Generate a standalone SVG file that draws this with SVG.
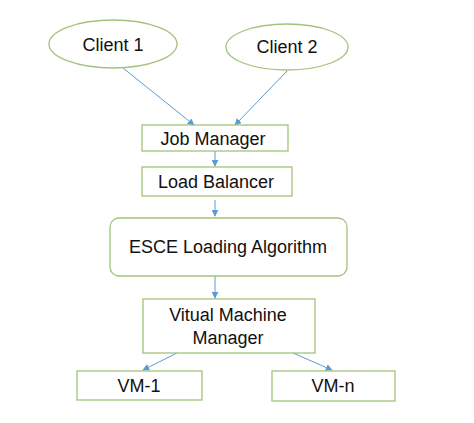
<svg xmlns="http://www.w3.org/2000/svg" width="474" height="423" viewBox="0 0 474 423">
<style>
.n{fill:#fff;stroke:#a3c37a;stroke-width:1.3}
.t{font-family:"Liberation Sans",Arial,sans-serif;font-size:18px;fill:#111;text-anchor:middle}
.c{stroke:#5b9bd5;stroke-width:1;fill:none;marker-end:url(#a)}
</style>
<defs>
<marker id="a" viewBox="0 0 10 10" refX="9" refY="5" markerWidth="7" markerHeight="7" markerUnits="userSpaceOnUse" orient="auto">
<path d="M0,0 L10,5 L0,10 z" fill="#5b9bd5"/>
</marker>
</defs>
<rect width="474" height="423" fill="#fff"/>
<g id="connectors">
<line class="c" x1="123" y1="68" x2="194" y2="125"/>
<line class="c" x1="287" y1="71" x2="235" y2="125"/>
<line class="c" x1="215" y1="151" x2="215" y2="166"/>
<line class="c" x1="215" y1="200" x2="215" y2="216"/>
<line class="c" x1="215" y1="276" x2="215" y2="298"/>
<line class="c" x1="177" y1="353" x2="143" y2="370"/>
<line class="c" x1="293" y1="353" x2="332" y2="370"/>
</g>
<g id="client1"><ellipse class="n" cx="113" cy="44" rx="64" ry="24"/><text class="t" x="113" y="51">Client 1</text></g>
<g id="client2"><ellipse class="n" cx="287" cy="47" rx="61" ry="23"/><text class="t" x="287" y="53">Client 2</text></g>
<g id="jobmanager"><rect class="n" x="142" y="125" width="146" height="26"/><text class="t" x="213" y="145">Job Manager</text></g>
<g id="loadbalancer"><rect class="n" x="142" y="167" width="150" height="29"/><text class="t" x="216" y="188">Load Balancer</text></g>
<g id="esce"><rect class="n" x="110" y="218" width="237" height="58" rx="9"/><text class="t" x="228" y="253">ESCE Loading Algorithm</text></g>
<g id="vmm"><rect class="n" x="143" y="299" width="172" height="54"/><text class="t" x="228" y="321">Vitual Machine</text><text class="t" x="228" y="344">Manager</text></g>
<g id="vm1"><rect class="n" x="77" y="371" width="125" height="29"/><text class="t" x="139" y="392">VM-1</text></g>
<g id="vmn"><rect class="n" x="272" y="371" width="123" height="30"/><text class="t" x="333" y="392">VM-n</text></g>
</svg>
